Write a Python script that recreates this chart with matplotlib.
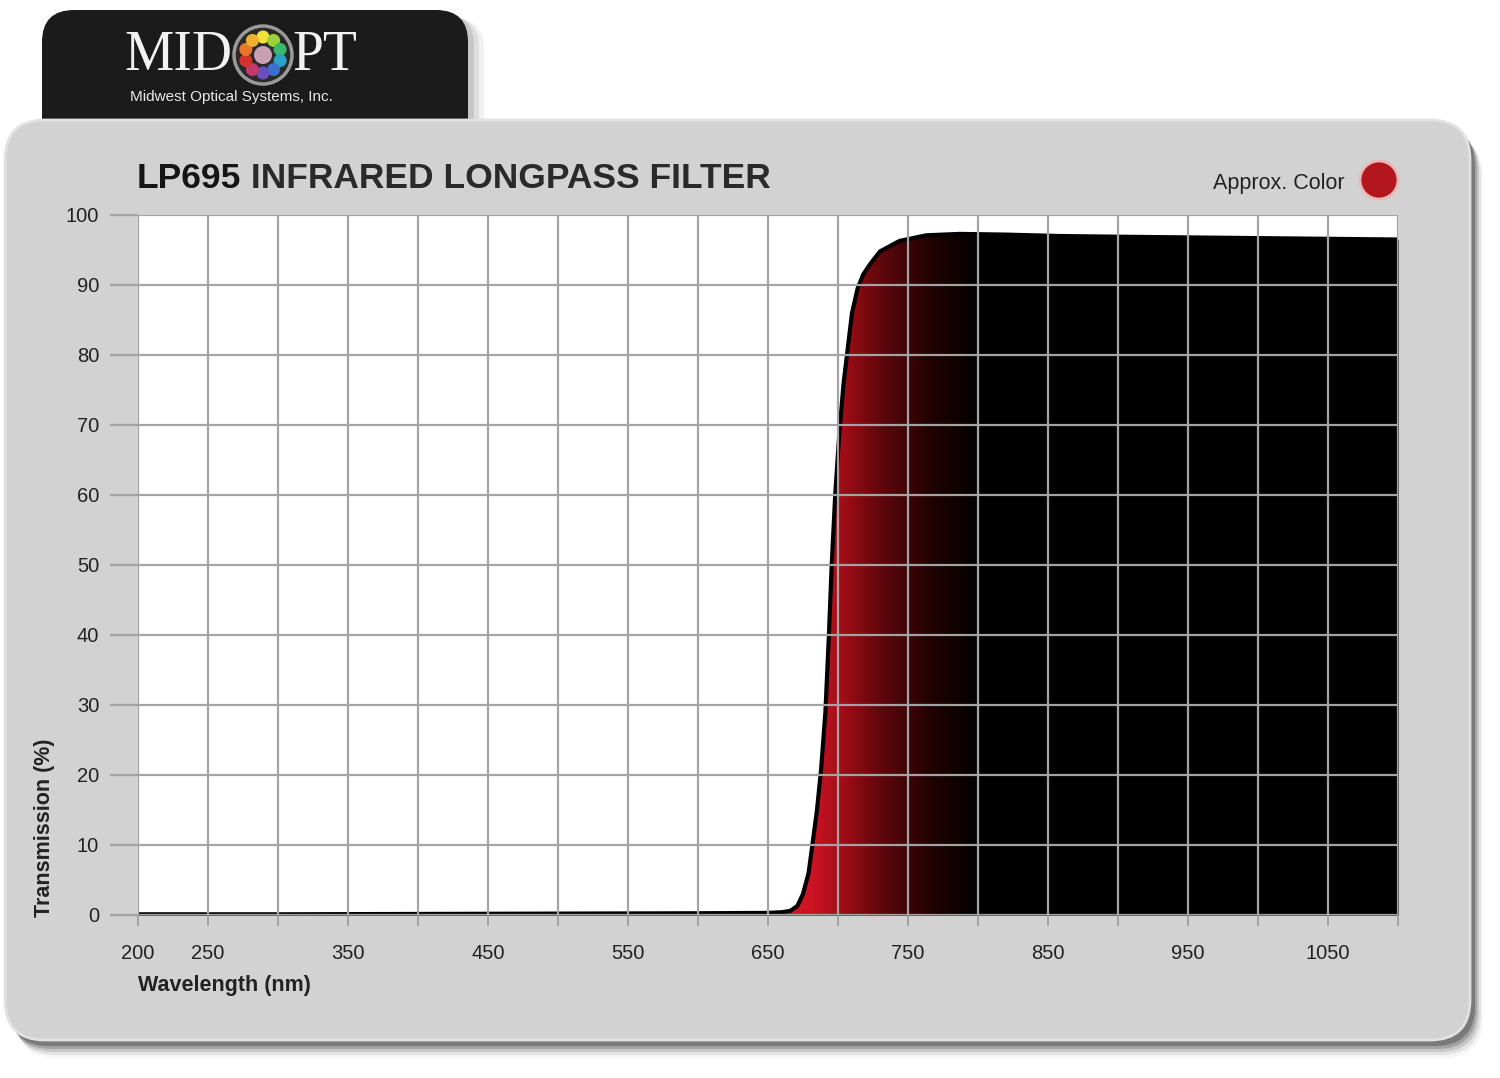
import numpy as np
import matplotlib.pyplot as plt
from matplotlib.patches import FancyBboxPatch, Circle
from matplotlib.colors import LinearSegmentedColormap

# transmission curve
wavelength = [200, 300, 400, 500, 600, 650, 660, 666, 671, 675, 679, 682, 685, 688,
              691, 693.5, 695.5, 698, 701, 704, 707, 710, 714, 718, 723, 730, 744,
              763, 787, 820, 858, 900, 950, 1000, 1050, 1100]
transmission = [0.1, 0.1, 0.15, 0.2, 0.25, 0.3, 0.4, 0.6, 1.3, 3, 6, 10.5, 15, 21,
                29, 40, 50, 60, 69, 76, 81, 86, 89.5, 91.5, 93, 94.8, 96.3,
                97.1, 97.3, 97.2, 97.0, 96.9, 96.8, 96.7, 96.6, 96.5]

x_labels = [200, 250, 350, 450, 550, 650, 750, 850, 950, 1050]
x_grid = list(range(200, 1101, 50))
y_ticks = list(range(0, 101, 10))

title_bold = "LP695"
title_rest = " INFRARED LONGPASS FILTER"

fig = plt.figure(figsize=(15, 10.78), dpi=100)
fig.patch.set_facecolor("white")

# background layer in pixel coordinates
bg = fig.add_axes([0, 0, 1, 1])
bg.set_xlim(0, 1500)
bg.set_ylim(1078, 0)
bg.axis("off")

# tab with logo (behind the card)
for i, a in enumerate([0.10, 0.08, 0.06]):
    bg.add_patch(FancyBboxPatch((46 + 5 * i, 14 + 2 * i), 428, 160, boxstyle="round,pad=0,rounding_size=32",
                                fc="black", ec="none", alpha=a, zorder=1))
bg.add_patch(FancyBboxPatch((42, 10), 426, 160, boxstyle="round,pad=0,rounding_size=32",
                            fc="#1b1b1b", ec="none", zorder=2))

# card shadow
for i, a in enumerate([0.25, 0.18, 0.12, 0.07, 0.04]):
    bg.add_patch(FancyBboxPatch((9 + 2 * i, 126 + 3 * i), 1466, 920, boxstyle="round,pad=0,rounding_size=40",
                                fc="black", ec="none", alpha=a, zorder=3))
bg.add_patch(FancyBboxPatch((5, 120), 1465, 920, boxstyle="round,pad=0,rounding_size=40",
                            fc="#d2d2d2", ec="#e2e2e2", lw=2, zorder=4))

# logo
bg.text(232, 56, "MID", ha="right", va="center", fontsize=40, color="#f2f2f2",
        family="Liberation Serif", zorder=6)
bg.text(292, 56, "PT", ha="left", va="center", fontsize=40, color="#f2f2f2",
        family="Liberation Serif", zorder=6)
bg.add_patch(Circle((263, 55), 29, fc="#2a2a2a", ec="#9a9a9a", lw=2.5, zorder=6))
dot_colors = ["#f2e23a", "#9bd23c", "#3ab86a", "#2aa3c8", "#3a6fd0", "#6a4fc0",
              "#c03a6a", "#d8302a", "#e8782a", "#f0b030"]
for k, c in enumerate(dot_colors):
    ang = np.pi / 2 - 2 * np.pi * k / len(dot_colors)
    bg.add_patch(Circle((263 + 18 * np.cos(ang), 55 - 18 * np.sin(ang)), 6.5, fc=c, ec="none", zorder=7))
bg.add_patch(Circle((263, 55), 9, fc="#c8a0b0", ec="none", zorder=7))
bg.text(130, 97, "Midwest Optical Systems, Inc.", ha="left", va="center", fontsize=11,
        color="#e8e8e8", family="Liberation Sans", zorder=6)

# title
t1 = bg.text(137, 179, title_bold, ha="left", va="center", fontsize=25.5, fontweight="bold",
             color="#151515", family="Liberation Sans", zorder=6)
fig.canvas.draw()
bb = t1.get_window_extent()
bg.text(137 + bb.width, 179, title_rest, ha="left", va="center", fontsize=25.5, fontweight="bold",
        color="#2a2a2a", family="Liberation Sans", zorder=6)

bg.text(1345, 183, "Approx. Color", ha="right", va="center", fontsize=15.5, color="#222222",
        family="Liberation Sans", zorder=6)
bg.add_patch(Circle((1379, 180), 19, fc="#b3161c", ec="#e9b7b7", lw=2, zorder=6))

# main chart
ax = fig.add_axes([138 / 1500, 1 - 915 / 1078, 1260 / 1500, 700 / 1078])
ax.set_facecolor("white")
ax.set_xlim(200, 1100)
ax.set_ylim(0, 100)

poly = ax.fill_between(wavelength, transmission, 0, color="black", lw=0, zorder=1)
grad = LinearSegmentedColormap.from_list("ir", [
    (0.0, (0.82, 0.08, 0.15)), (0.18, (0.80, 0.08, 0.14)), (0.34, (0.62, 0.05, 0.09)),
    (0.5, (0.40, 0.03, 0.05)), (0.75, (0.14, 0.01, 0.01)), (1.0, (0.0, 0.0, 0.0))])
img = ax.imshow(np.linspace(0, 1, 256)[None, :], cmap=grad, aspect="auto",
                extent=[655, 800, 0, 100], zorder=1.5)
img.set_clip_path(poly.get_paths()[0], transform=ax.transData)
ax.plot(wavelength, transmission, color="black", lw=3, zorder=2)

ax.set_xticks(x_labels)
ax.set_xticklabels([str(v) for v in x_labels])
ax.set_xticks(x_grid, minor=True)
ax.set_yticks(y_ticks)
ax.grid(True, which="both", color="#a4a4a4", lw=1.6)
ax.set_axisbelow(False)
for s in ax.spines.values():
    s.set_visible(False)
ax.tick_params(axis="x", which="both", length=8, width=1.2, color="#9a9a9a", pad=13,
               labelsize=14.5, labelcolor="#222222")
ax.tick_params(axis="y", length=20, width=1.6, color="#a4a4a4", pad=8,
               labelsize=14.5, labelcolor="#222222")
for lab in ax.get_xticklabels() + ax.get_yticklabels():
    lab.set_family("Liberation Sans")

ax.text(0, -0.1, "Wavelength (nm)", transform=ax.transAxes, ha="left", va="center",
        fontsize=15.5, fontweight="bold", color="#222222", family="Liberation Sans")
ax.text(-0.074, -0.003, "Transmission (%)", transform=ax.transAxes, ha="center", va="bottom",
        rotation=90, fontsize=15.5, fontweight="bold", color="#222222", family="Liberation Sans")

fig.savefig("out.png", dpi=100, facecolor="white")
